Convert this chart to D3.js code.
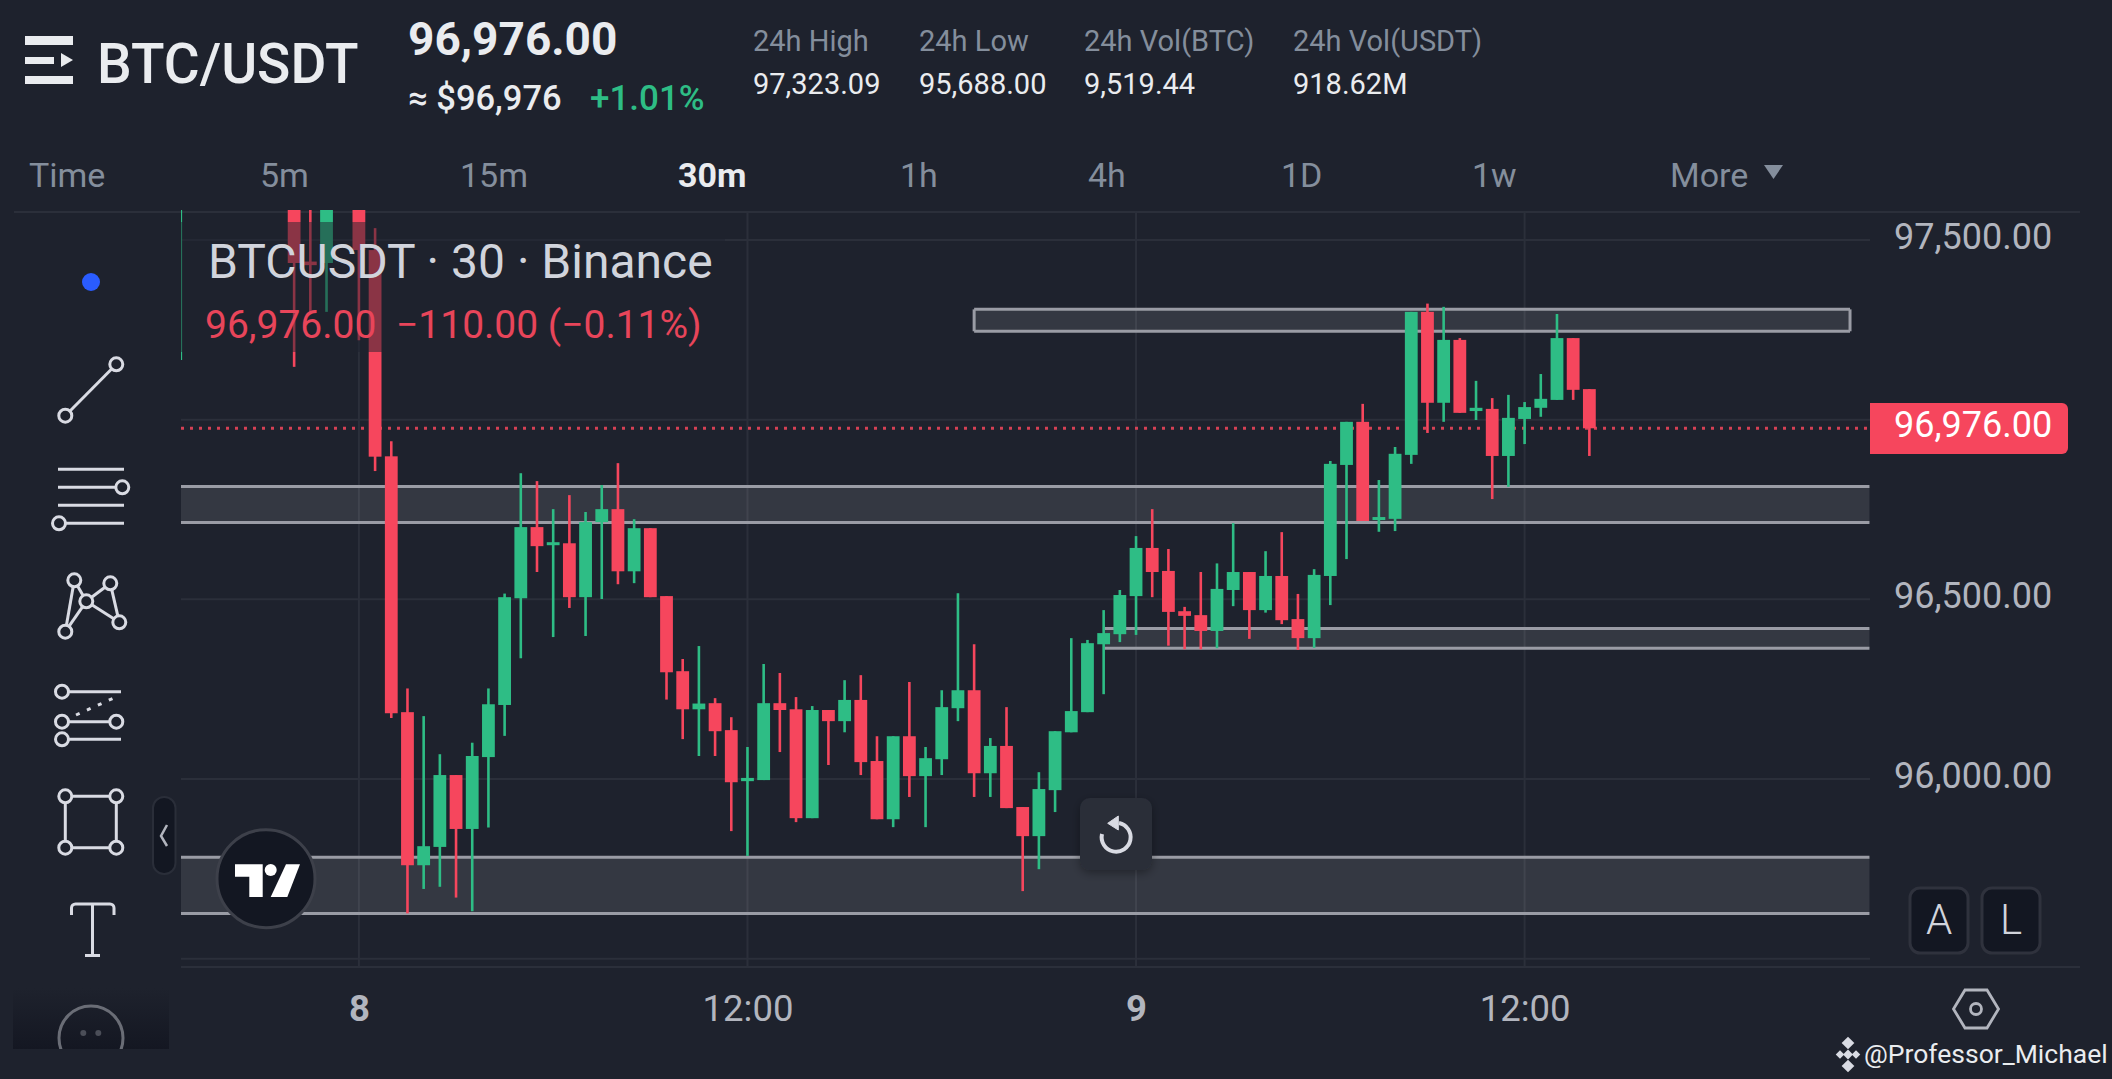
<!DOCTYPE html>
<html>
<head>
<meta charset="utf-8">
<title>BTC/USDT</title>
<script src="https://cdn.jsdelivr.net/npm/d3@7"></script>
<style>
  html, body { margin: 0; padding: 0; background: #1e222d; overflow: hidden; }
  text { font-family: Roboto, sans-serif; }
</style>
</head>
<body>
<script>
// candles, index 0 = start of day 8, one bar per 30m
var slots = [-11, -4, -3, -2, 0].concat(d3.range(1, 77));
var opens = [97650,97650,97440,97436,97650,
  97472,96898,96186,95760,95811,96011,95861,96061,96206,96503,96701,96651,96656,96506,96715,96751,96578,96698,96509,96300,
  96194,96211,96136,95994,95997,96211,96194,95891,96192,96161,96220,96050,95888,96119,96008,96055,96197,96247,96016,96092,
  95922,95841,95969,96130,96186,96375,96403,96509,96643,96579,96467,96456,96412,96526,96576,96470,96565,96445,96392,96565,
  96874,96994,96721,96724,96902,97300,97047,97222,97024,97030,96899,97002,97033,97055,97227,97085];
var highs = [97720,97700,97700,97700,97700,
  97533,96940,96252,96175,96069,96011,96101,96252,96516,96851,96829,96751,96790,96743,96818,96879,96723,96698,96509,96334,
  96370,96225,96172,96089,96320,96295,96228,96203,96192,96275,96289,96119,96119,96270,96089,96247,96517,96375,96114,96200,
  95922,96019,96133,96392,96387,96470,96526,96676,96751,96640,96479,96576,96600,96712,96576,96634,96687,96515,96584,96885,
  96994,97044,96832,96924,97300,97323,97314,97227,97108,97060,97069,97049,97127,97294,97227,97085];
var lows = [97166,97147,97300,97300,97221,
  96857,96170,95626,95694,95700,95670,95632,95865,96120,96336,96576,96395,96476,96398,96501,96542,96545,96506,96221,96111,
  96064,96064,95855,95786,95997,96075,95880,95891,96039,96130,96011,95888,95866,95950,95866,96011,96161,95950,95950,95919,
  95688,95749,95908,96130,96186,96236,96381,96401,96506,96371,96361,96361,96364,96481,96390,96463,96431,96359,96365,96484,
  96612,96718,96688,96690,96877,96963,96994,97019,96999,96779,96813,96932,97008,97055,97055,96899];
var closes = [97700,97436,97430,97650,97472,
  96897,96183,95760,95813,96011,95861,96064,96208,96506,96701,96648,96659,96506,96715,96751,96578,96698,96506,96297,96194,
  96210,96133,95991,96003,96211,96192,95891,96192,96161,96220,96047,95888,96119,96008,96058,96200,96247,96016,96092,95919,
  95841,95972,96133,96189,96378,96406,96512,96643,96576,96465,96454,96412,96529,96576,96470,96565,96442,96392,96568,96877,
  96994,96718,96729,96905,97300,97047,97222,97019,97033,96899,97005,97035,97058,97227,97083,96976];

var lastPrice = 96976;
var priceTicks = [97500, 96500, 96000];
var gridPrices = [97500, 97000, 96500, 96000, 95500];
var timeTicks = [0, 24, 48, 72];
var timeLabels = ['8', '12:00', '9', '12:00'];

// drawn zones: [top price, bottom price, first slot, last slot]
var zoneTops = [97307, 96814, 96419, 95782];
var zoneBottoms = [97246, 96714, 96364, 95626];
var zoneStarts = [38, -12, 46, -12];
var zoneEnds = [92.1, 93.3, 93.3, 93.3];

var tabs = ['Time', '5m', '15m', '30m', '1h', '4h', '1D', '1w', 'More'];
var tabX = [29, 260, 460, 678, 900, 1088, 1281, 1472, 1670];
var statLabels = ['24h High', '24h Low', '24h Vol(BTC)', '24h Vol(USDT)'];
var statValues = ['97,323.09', '95,688.00', '9,519.44', '918.62M'];
var statX = [753, 919, 1084, 1293];

var W = 2112, H = 1079;
var left = 181, right = 1870, top_ = 211, bottom = 966;
var green = '#2ebd85', red = '#f6465d', gridCol = '#2b2f3a', light = '#eaecef', muted = '#848e9c', axisCol = '#b2b5be', icon = '#d9dbe3';

var svg = d3.select('body').append('svg').attr('width', W).attr('height', H).style('display', 'block');

var x = d3.scaleLinear().domain([0, 72]).range([358.9, 1524.6]);
var y = d3.scaleLinear().domain([96000, 97500]).range([779, 240]);

var defs = svg.append('defs');
defs.append('clipPath').attr('id', 'plot').append('rect').attr('x', left).attr('y', 210).attr('width', right - left).attr('height', bottom - 210);
var grad = defs.append('linearGradient').attr('id', 'fade').attr('x1', 0).attr('x2', 0).attr('y1', 0).attr('y2', 1);
grad.append('stop').attr('offset', 0).attr('stop-color', '#1e222d');
grad.append('stop').attr('offset', 1).attr('stop-color', '#141722');
var blur = defs.append('filter').attr('id', 'shadow').attr('x', '-30%').attr('y', '-30%').attr('width', '160%').attr('height', '160%');
blur.append('feDropShadow').attr('dx', 0).attr('dy', 3).attr('stdDeviation', 5).attr('flood-color', '#000').attr('flood-opacity', 0.35);

// frame lines
svg.append('line').attr('x1', 14).attr('x2', 2080).attr('y1', 212).attr('y2', 212).attr('stroke', gridCol).attr('stroke-width', 2);
svg.append('line').attr('x1', left).attr('x2', 2080).attr('y1', bottom + 1).attr('y2', bottom + 1).attr('stroke', gridCol).attr('stroke-width', 2);

var plot = svg.append('g').attr('clip-path', 'url(#plot)');

// grid
plot.selectAll('.hgrid').data(gridPrices).enter().append('line')
  .attr('x1', left).attr('x2', right)
  .attr('y1', function(d) { return y(d); }).attr('y2', function(d) { return y(d); })
  .attr('stroke', gridCol).attr('stroke-width', 2);
plot.selectAll('.vgrid').data(timeTicks).enter().append('line')
  .attr('y1', 211).attr('y2', bottom)
  .attr('x1', function(d) { return x(d); }).attr('x2', function(d) { return x(d); })
  .attr('stroke', gridCol).attr('stroke-width', 2);

// zones
zoneTops.forEach(function(t, i) {
  var x0 = x(zoneStarts[i]), x1 = x(zoneEnds[i]);
  var y0 = y(t), y1 = y(zoneBottoms[i]);
  plot.append('rect').attr('x', x0).attr('y', y0).attr('width', x1 - x0).attr('height', y1 - y0)
    .attr('fill', '#fff').attr('fill-opacity', 0.1);
  plot.append('line').attr('x1', x0).attr('x2', x1).attr('y1', y0).attr('y2', y0).attr('stroke', '#9a9ca5').attr('stroke-width', 3);
  plot.append('line').attr('x1', x0).attr('x2', x1).attr('y1', y1).attr('y2', y1).attr('stroke', '#9a9ca5').attr('stroke-width', 3);
  if (i == 0) {
    plot.append('line').attr('x1', x0).attr('x2', x0).attr('y1', y0).attr('y2', y1).attr('stroke', '#9a9ca5').attr('stroke-width', 3);
    plot.append('line').attr('x1', x1).attr('x2', x1).attr('y1', y0).attr('y2', y1).attr('stroke', '#9a9ca5').attr('stroke-width', 3);
  }
});

// last price dotted line
plot.append('line').attr('x1', left).attr('x2', right).attr('y1', y(lastPrice)).attr('y2', y(lastPrice))
  .attr('stroke', red).attr('stroke-opacity', 0.85).attr('stroke-width', 3).attr('stroke-dasharray', '3 6');

// candles
var bars = plot.selectAll('.bar').data(slots).enter().append('g').attr('class', 'bar');
function barColor(d, i) { return closes[i] >= opens[i] ? green : red; }
bars.append('line')
  .attr('x1', function(d) { return x(d); }).attr('x2', function(d) { return x(d); })
  .attr('y1', function(d, i) { return y(highs[i]); })
  .attr('y2', function(d, i) { return y(lows[i]); })
  .attr('stroke', barColor).attr('stroke-width', 2.6);
bars.append('rect')
  .attr('x', function(d) { return x(d) - 6.4; }).attr('width', 12.8)
  .attr('y', function(d, i) { return y(Math.max(opens[i], closes[i])); })
  .attr('height', function(d, i) { return Math.max(3, Math.abs(y(opens[i]) - y(closes[i]))); })
  .attr('fill', barColor);

// legend dims whatever is behind it
svg.append('rect').attr('x', left).attr('y', 222).attr('width', 725 - left).attr('height', 130).attr('fill', '#1e222d').attr('fill-opacity', 0.5);
svg.append('text').attr('x', 208).attr('y', 278).attr('font-size', 48).attr('fill', '#d1d4dc').text('BTCUSDT · 30 · Binance');
svg.append('text').attr('x', 205).attr('y', 338).attr('font-size', 39).attr('fill', '#e8455a').text('96,976.00');
svg.append('text').attr('x', 396).attr('y', 338).attr('font-size', 39).attr('fill', '#e8455a').text('−110.00 (−0.11%)');

// axes
var yAxis = svg.append('g').attr('transform', 'translate(1894,0)')
  .call(d3.axisRight(y).tickValues(priceTicks).tickSize(0).tickPadding(0).tickFormat(d3.format(',.2f')));
yAxis.select('.domain').remove();
yAxis.selectAll('text').attr('dy', 8).attr('font-size', 36).attr('fill', axisCol).style('font-family', 'Roboto');

var xAxis = svg.append('g').attr('transform', 'translate(0,' + bottom + ')')
  .call(d3.axisBottom(x).tickValues(timeTicks).tickSize(0).tickPadding(0).tickFormat(function(d, i) { return timeLabels[i]; }));
xAxis.select('.domain').remove();
xAxis.selectAll('text').attr('y', 55).attr('dy', 0).attr('font-size', 36.5).attr('fill', axisCol).style('font-family', 'Roboto')
  .attr('font-weight', function(d, i) { return i % 2 == 0 ? 700 : 400; });

// last price tag
svg.append('path').attr('d', 'M1870,403H2062a6,6 0 0 1 6,6V448a6,6 0 0 1 -6,6H1870Z').attr('fill', red);
svg.append('text').attr('x', 1894).attr('y', 437).attr('font-size', 36).attr('fill', '#fff').text('96,976.00');

// header
svg.append('g').selectAll('rect').data([[25, 36, 48, 9], [25, 57, 29, 7], [25, 76, 48, 8]]).enter().append('rect')
  .attr('x', function(d) { return d[0]; }).attr('y', function(d) { return d[1]; })
  .attr('width', function(d) { return d[2]; }).attr('height', function(d) { return d[3]; }).attr('fill', light);
svg.append('path').attr('d', 'M61,53L73,60L61,67Z').attr('fill', light);
svg.append('text').attr('x', 97).attr('y', 83).attr('font-size', 55).attr('font-weight', 500).attr('fill', light).text('BTC/USDT');
svg.append('text').attr('x', 408).attr('y', 55).attr('font-size', 46).attr('font-weight', 700).attr('fill', light).text('96,976.00');
svg.append('text').attr('x', 408).attr('y', 110).attr('font-size', 34.5).attr('font-weight', 500).attr('fill', light).text('≈ $96,976');
svg.append('text').attr('x', 590).attr('y', 110).attr('font-size', 35).attr('font-weight', 500).attr('fill', green).text('+1.01%');

svg.selectAll('.statl').data(statLabels).enter().append('text').attr('class', 'statl')
  .attr('x', function(d, i) { return statX[i]; }).attr('y', 51).attr('font-size', 29).attr('fill', muted).text(function(d) { return d; });
svg.selectAll('.statv').data(statValues).enter().append('text').attr('class', 'statv')
  .attr('x', function(d, i) { return statX[i]; }).attr('y', 94).attr('font-size', 29).attr('fill', light).text(function(d) { return d; });

svg.selectAll('.tab').data(tabs).enter().append('text').attr('class', 'tab')
  .attr('x', function(d, i) { return tabX[i]; }).attr('y', 187).attr('font-size', 34)
  .attr('font-weight', function(d) { return d == '30m' ? 700 : 400; })
  .attr('fill', function(d) { return d == '30m' ? light : muted; })
  .text(function(d) { return d; });
svg.append('path').attr('d', 'M1764,165H1783L1773.5,179Z').attr('fill', muted);

// toolbar
svg.append('circle').attr('cx', 91).attr('cy', 282).attr('r', 9).attr('fill', '#2a5cff');
var tools = svg.append('g').attr('fill', 'none').attr('stroke', icon).attr('stroke-width', 3);
function seg(a, b, c, e) { tools.append('line').attr('x1', a).attr('y1', b).attr('x2', c).attr('y2', e); }
function dot(a, b) { tools.append('circle').attr('cx', a).attr('cy', b).attr('r', 6.5).attr('fill', '#1e222d'); }

seg(65.3, 415.7, 116.3, 364.3); dot(65.3, 415.7); dot(116.3, 364.3);

seg(58, 469.3, 124, 469.3); seg(58, 487.3, 122, 487.3); dot(122.3, 487.3);
seg(58, 505.3, 124, 505.3); seg(59, 523.3, 124, 523.3); dot(59, 523.3);

seg(74.3, 580.3, 86.3, 601.3); seg(74.3, 580.3, 65.3, 631.7); seg(65.3, 631.7, 86.3, 601.3);
seg(86.3, 601.3, 110.3, 583.3); seg(86.3, 601.3, 119.3, 622.3); seg(110.3, 583.3, 119.3, 622.3);
dot(74.3, 580.3); dot(110.3, 583.3); dot(86.3, 601.3); dot(119.3, 622.3); dot(65.3, 631.7);

seg(62, 691.7, 121, 691.7); seg(62, 721.7, 116, 721.7); seg(62, 739.3, 121, 739.3);
seg(76, 715, 116, 697); tools.select('line:last-child').attr('stroke-dasharray', '4 8');
dot(62, 691.7); dot(62, 721.7); dot(116.3, 721.7); dot(62, 739.3);

seg(65.3, 796.3, 116.3, 796.3); seg(65.3, 847.7, 116.3, 847.7); seg(65.3, 796.3, 65.3, 847.7); seg(116.3, 796.3, 116.3, 847.7);
dot(65.3, 796.3); dot(116.3, 796.3); dot(65.3, 847.7); dot(116.3, 847.7);

tools.append('path').attr('d', 'M71.5,915V908a4,4 0 0 1 4,-4H110a4,4 0 0 1 4,4V915M92.5,904V955M85,955.5H100');

// half hidden button at the bottom of the toolbar
svg.append('rect').attr('x', 13).attr('y', 988).attr('width', 156).attr('height', 61).attr('fill', 'url(#fade)');
defs.append('clipPath').attr('id', 'peek').append('rect').attr('x', 13).attr('y', 988).attr('width', 156).attr('height', 61);
var peek = svg.append('g').attr('clip-path', 'url(#peek)');
peek.append('circle').attr('cx', 91).attr('cy', 1038).attr('r', 32).attr('fill', 'none').attr('stroke', '#6a6d76').attr('stroke-width', 3);
peek.append('circle').attr('cx', 83.3).attr('cy', 1033).attr('r', 3).attr('fill', '#4b4e58');
peek.append('circle').attr('cx', 98.3).attr('cy', 1033).attr('r', 3).attr('fill', '#4b4e58');

// collapse tab
svg.append('rect').attr('x', 153).attr('y', 797).attr('width', 22.5).attr('height', 77).attr('rx', 11).attr('fill', '#131722').attr('stroke', '#2a2e39').attr('stroke-width', 2);
svg.append('path').attr('d', 'M167,825L161,836L167,846').attr('fill', 'none').attr('stroke', '#b2b5be').attr('stroke-width', 2.5);

// tradingview badge
svg.append('circle').attr('cx', 266).attr('cy', 878.7).attr('r', 49).attr('fill', '#131722').attr('stroke', '#3d404a').attr('stroke-width', 3);
svg.append('path').attr('d', 'M235,864.3H262.7V897H249.3V876.7H235Z').attr('fill', '#fff');
svg.append('circle').attr('cx', 270.7).attr('cy', 870).attr('r', 6).attr('fill', '#fff');
svg.append('path').attr('d', 'M286,864.3H300L287.3,897H270.7Z').attr('fill', '#fff');

// reset button
svg.append('rect').attr('x', 1080).attr('y', 798).attr('width', 72).attr('height', 72).attr('rx', 10).attr('fill', '#2a2e39').attr('filter', 'url(#shadow)');
svg.append('path').attr('d', 'M1119,823A14.5,14.5 0 1 1 1102,834').attr('fill', 'none').attr('stroke', '#d9dbe3').attr('stroke-width', 4);
svg.append('path').attr('d', 'M1107.7,823.3L1118.3,816V830Z').attr('fill', '#d9dbe3').attr('stroke', '#d9dbe3').attr('stroke-width', 1);

// A / L buttons
[['A', 1910], ['L', 1982]].forEach(function(b) {
  svg.append('rect').attr('x', b[1]).attr('y', 888).attr('width', 58).attr('height', 65).attr('rx', 10).attr('fill', '#131722').attr('stroke', '#2f323d').attr('stroke-width', 3);
  svg.append('text').attr('x', b[1] + 29).attr('y', 934).attr('text-anchor', 'middle').attr('font-size', 42).attr('font-weight', 300).attr('fill', '#d1d4dc').text(b[0]);
});

// settings hexagon
svg.append('path').attr('d', 'M1953.5,1009L1965,990H1987L1998.5,1009L1987,1028H1965Z').attr('fill', 'none').attr('stroke', axisCol).attr('stroke-width', 2.8);
svg.append('circle').attr('cx', 1976).attr('cy', 1009).attr('r', 5.5).attr('fill', 'none').attr('stroke', axisCol).attr('stroke-width', 2.8);

// watermark
var mark = svg.append('g').attr('fill', '#d9dbe3');
[[1848, 1043, 4.5], [1840, 1054.5, 3], [1856, 1054.5, 3], [1848, 1054.5, 3.5], [1848, 1066, 4.5]].forEach(function(p) {
  mark.append('rect').attr('x', p[0] - p[2]).attr('y', p[1] - p[2]).attr('width', p[2] * 2).attr('height', p[2] * 2)
    .attr('transform', 'rotate(45 ' + p[0] + ' ' + p[1] + ')');
});
svg.append('text').attr('x', 1864).attr('y', 1063).attr('font-size', 26.5).attr('fill', '#eaecef').text('@Professor_Michael');
</script>
</body>
</html>
